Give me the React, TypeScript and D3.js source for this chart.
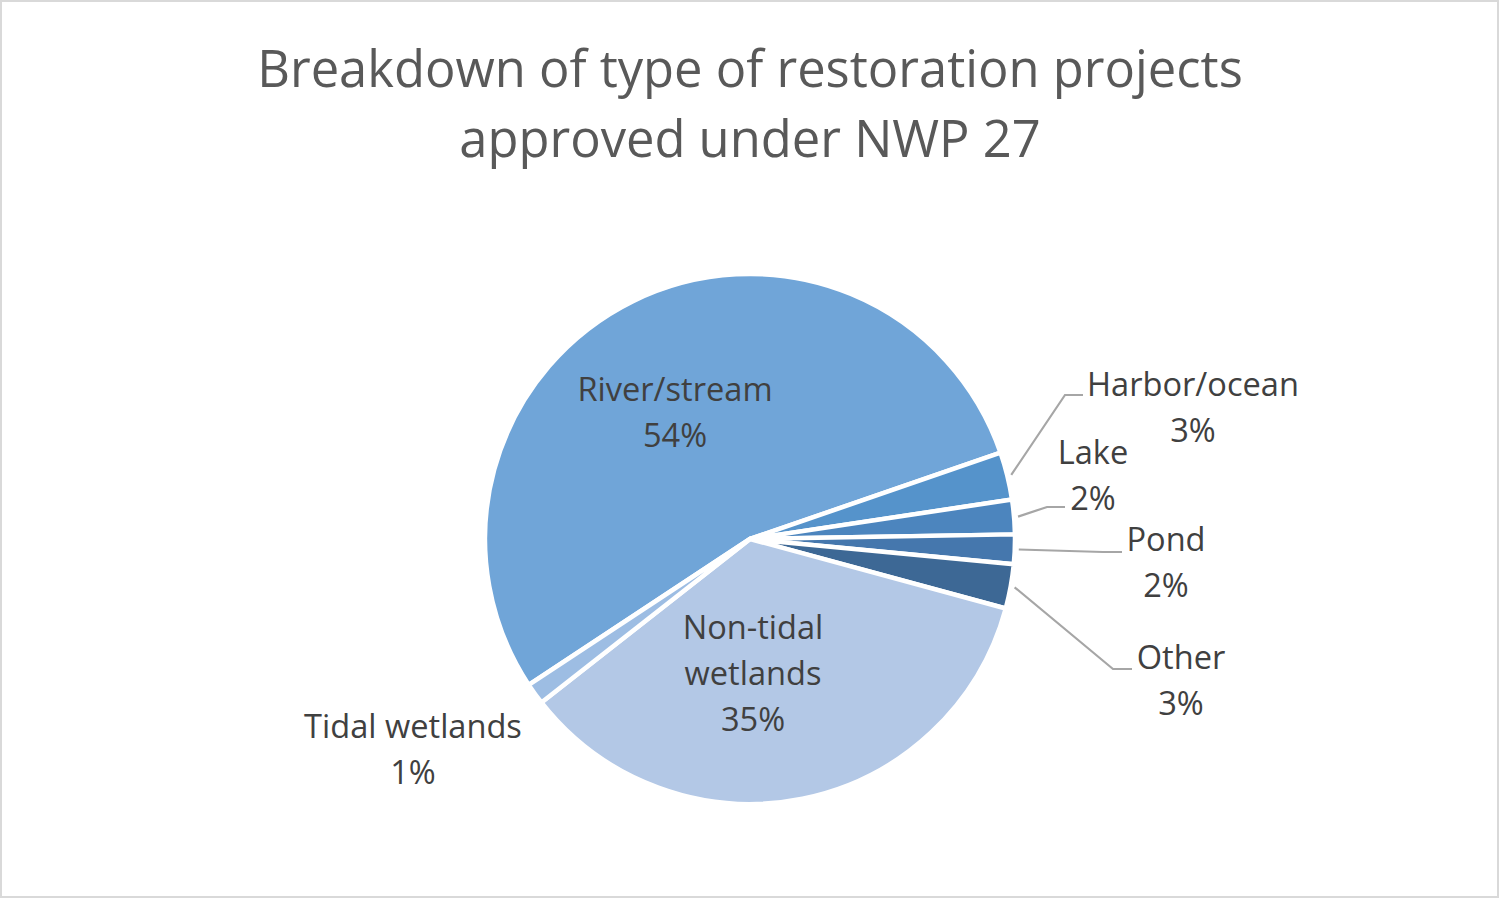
// App.tsx
import React from 'react';
import * as d3 from 'd3';

// slice data, clockwise from the River/stream slice
const categories = ['River/stream', 'Harbor/ocean', 'Lake', 'Pond', 'Other', 'Non-tidal wetlands', 'Tidal wetlands'];
const shares = [54.0, 2.9, 2.1, 1.8, 2.7, 35.2, 1.3];
const labelLines = [
  ['River/stream'],
  ['Harbor/ocean'],
  ['Lake'],
  ['Pond'],
  ['Other'],
  ['Non-tidal', 'wetlands'],
  ['Tidal wetlands'],
];
const titleLines = ['Breakdown of type of restoration projects', 'approved under NWP 27'];

const colors = ['#70a5d8', '#5593cb', '#4c85be', '#4577ad', '#3d6895', '#b3c8e6', '#9dbde3'];

// label anchors (x center, first baseline) and leader elbows
const labelPos: [number, number][] = [
  [675, 401], [1193, 396], [1093, 464], [1166, 551], [1181, 669], [753, 639], [413, 738],
];
const leaders: ([number, number][] | null)[] = [
  null,
  [[1065, 395], [1083, 395]],
  [[1047, 507], [1065, 507]],
  [[1103, 552], [1122, 552]],
  [[1113, 669], [1132, 669]],
  null,
  null,
];

const W = 1500;
const H = 899;
const cx = 750;
const cy = 539;
const R = 265;
const start = (236.6 * Math.PI) / 180;

const App: React.FC = () => {
  const pie = d3
    .pie<number>()
    .sort(null)
    .value((d) => d)
    .startAngle(start)
    .endAngle(start + 2 * Math.PI);
  const arcs = pie(shares);
  const arc = d3.arc<d3.PieArcDatum<number>>().innerRadius(0).outerRadius(R);
  const edge = d3.arc<d3.PieArcDatum<number>>().innerRadius(R + 4).outerRadius(R + 4);
  const total = d3.sum(shares);
  const pct = (v: number) => `${Math.round((v / total) * 100)}%`;
  const lineH = 46;

  return (
    <svg
      width={W}
      height={H}
      style={{ position: 'absolute', left: 0, top: 0, background: '#fff' }}
      fontFamily="'Open Sans', sans-serif"
    >
      <rect x={1} y={1} width={W - 3} height={H - 3} fill="#fff" stroke="#d9d9d9" strokeWidth={2} />
      <g fill="#595959" fontSize={50.7} textAnchor="middle">
        {titleLines.map((t, i) => (
          <text key={i} x={cx} y={87 + i * 70}>{t}</text>
        ))}
      </g>
      <g transform={`translate(${cx},${cy})`}>
        {arcs.map((a, i) => (
          <path key={i} d={arc(a) || ''} fill={colors[i]} stroke="#fff" strokeWidth={4.5} strokeLinejoin="round" />
        ))}
      </g>
      {/* leader lines */}
      <g fill="none" stroke="#a6a6a6" strokeWidth={2.2}>
        {arcs.map((a, i) => {
          const pts = leaders[i];
          if (!pts) return null;
          const [sx, sy] = edge.centroid(a);
          const line = d3.line()([[cx + sx, cy + sy], ...pts]);
          return <path key={i} d={line || ''} />;
        })}
      </g>
      <g fill="#404040" fontSize={32.6} textAnchor="middle">
        {arcs.map((a, i) => {
          const [x, y] = labelPos[i];
          const lines = [...labelLines[i], pct(a.data)];
          return (
            <text key={i} x={x} y={y}>
              {lines.map((l, j) => (
                <tspan key={j} x={x} y={y + j * lineH}>{l}</tspan>
              ))}
            </text>
          );
        })}
      </g>
    </svg>
  );
};

export default App;
